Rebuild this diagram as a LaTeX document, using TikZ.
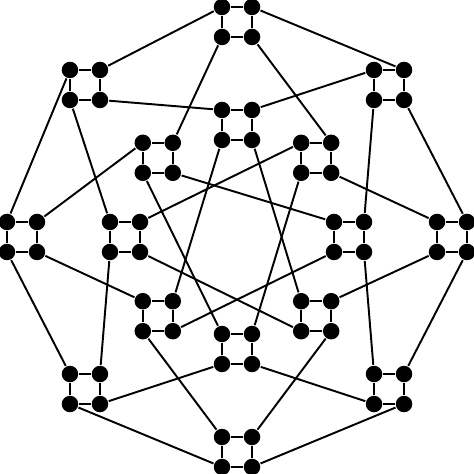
\documentclass[tikz,border=0pt]{standalone}
\begin{document}
\begin{tikzpicture}[dot/.style={circle,fill=black,inner sep=0pt,minimum size=0.33cm},line width=1.1pt]
    \def\outerRadius{4.3cm}
    \def\innerRadius{2.24cm}
    \def\half{0.3cm}
    \useasboundingbox (-4.74,-4.74) rectangle (4.74,4.74);

    % the sixteen little squares
    \foreach \r/\p in {\outerRadius/o,\innerRadius/i} {
        \foreach \a in {0,45,...,315} {
            \path (\a:\r) ++(-\half,\half) node[dot] (\p\a-tl) {}
                  (\a:\r) ++(\half,\half) node[dot] (\p\a-tr) {}
                  (\a:\r) ++(-\half,-\half) node[dot] (\p\a-bl) {}
                  (\a:\r) ++(\half,-\half) node[dot] (\p\a-br) {};
            \draw (\p\a-tl) -- (\p\a-tr) -- (\p\a-br) -- (\p\a-bl) -- (\p\a-tl);
        }
    }

    % links between the squares
    \foreach \u/\v in {o90-tl/o135-tr, o90-tr/o45-tr, o90-bl/i135-tr, o90-br/i45-tr,
                       o135-tl/o180-tl, o135-bl/i180-tl, o135-br/i90-tl,
                       i90-tr/o45-tl, i90-bl/i225-tr, i90-br/i315-tl,
                       i135-tl/o180-tr, i135-bl/i270-tl, i135-br/i0-tl,
                       i45-tl/i180-tr, i45-bl/i270-tr, i45-br/o0-tl,
                       o45-bl/i0-tr, o45-br/o0-tr,
                       o180-bl/o225-tl, o180-br/i225-tl,
                       i180-bl/o225-tr, i180-br/i315-bl,
                       i225-bl/o270-tl, i225-br/i0-bl,
                       o225-br/i270-bl, o225-bl/o270-bl,
                       i270-br/o315-bl, i0-br/o315-tl,
                       o0-bl/i315-tr, o0-br/o315-tr,
                       i315-br/o270-tr, o315-br/o270-br} {
        \draw (\u) -- (\v);
    }

\end{tikzpicture}
\end{document}
